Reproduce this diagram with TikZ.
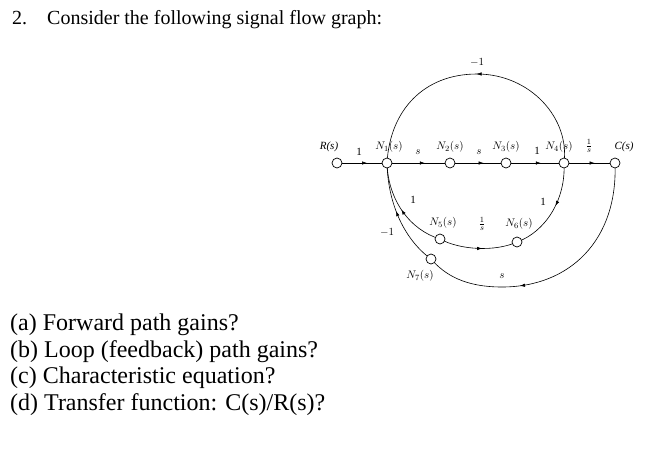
\documentclass[tikz,border=0pt]{standalone}
\usepackage{fontspec}
\setmainfont{Liberation Serif}
\usetikzlibrary{decorations.markings,arrows.meta}
\begin{document}
\begin{tikzpicture}[x=1pt,y=-1pt,
  sn/.style={circle,draw,fill=white,inner sep=0pt,minimum size=10pt,line width=0.7pt},
  lab/.style={font=\fontsize{11}{12}\selectfont\itshape,inner sep=1pt},
  gl/.style={font=\fontsize{11}{12}\selectfont,inner sep=1pt},
  br/.style={line width=0.6pt},
  fa/.style={postaction={decorate},decoration={markings,mark=at position #1 with {\arrow{Latex[length=5pt,width=3.5pt]}}}},
  ra/.style={postaction={decorate},decoration={markings,mark=at position #1 with {\arrowreversed{Latex[length=5pt,width=3.5pt]}}}},
  q/.style={anchor=west,font=\fontsize{24}{26}\selectfont,inner sep=0pt}]
\useasboundingbox (0,0) rectangle (656,456);
\node[anchor=west,font=\fontsize{20}{22}\selectfont,inner sep=0pt] (t) at (12,20) {2.\quad Consider the following signal flow graph:};
\coordinate (R) at (337,163);
\coordinate (N1) at (387,163);
\coordinate (N2) at (450,163);
\coordinate (N3) at (506,163);
\coordinate (N4) at (564,163);
\coordinate (C) at (615,163);
\coordinate (N5) at (440,239);
\coordinate (N6) at (517,242);
\coordinate (N7) at (431,259);
\draw[br,fa=0.6] (R) -- (N1);
\draw[br,fa=0.6] (N1) -- (N2);
\draw[br,fa=0.6] (N2) -- (N3);
\draw[br,fa=0.6] (N3) -- (N4);
\draw[br,fa=0.6] (N4) -- (C);
\draw[br,fa=0.5] (N4) .. controls (570,118) and (530,74) .. (477,74) .. controls (424,74) and (390,110) .. (N1);
\draw[br,fa=0.45] (N4) .. controls (566,200) and (545,232) .. (N6);
\draw[br,fa=0.55] (N5) .. controls (460,250) and (495,252) .. (N6);
\draw[br,ra=0.5] (N1) .. controls (388,200) and (410,230) .. (N5);
\draw[br,fa=0.64] (C) .. controls (618,240) and (570,287) .. (502,287) .. controls (465,287) and (445,275) .. (N7);
\draw[br,fa=0.55] (N7) .. controls (405,240) and (388,205) .. (N1);
\foreach \n in {R,N1,N2,N3,N4,C,N5,N6,N7} \node[sn] (n\n) at (\n) {};
\node[lab] (lR) at (329,147) {R(s)};
\node[lab] (lN1) at (389,147) {$N_1(s)$};
\node[lab] (lN2) at (450,147) {$N_2(s)$};
\node[lab] (lN3) at (506,147) {$N_3(s)$};
\node[lab] (lN4) at (559,147) {$N_4(s)$};
\node[lab] (lC) at (624,147) {C(s)};
\node[lab] (lN5) at (443,223) {$N_5(s)$};
\node[lab] (lN6) at (519,224) {$N_6(s)$};
\node[lab] (lN7) at (420,276) {$N_7(s)$};
\node[gl] (g1) at (359,152) {1};
\node[gl] (g2) at (418,152) {$s$};
\node[gl] (g3) at (479,152) {$s$};
\node[gl] (g4) at (537,151) {1};
\node[gl] (g5) at (589,146) {$\frac{1}{s}$};
\node[gl] (g6) at (477,62) {$-1$};
\node[gl] (g7) at (413,200) {1};
\node[gl] (g8) at (543,202) {1};
\node[gl] (g9) at (482,224) {$\frac{1}{s}$};
\node[gl] (g10) at (387,232) {$-1$};
\node[gl] (g11) at (502,276) {$s$};
\node[q] (qa) at (10,325) {(a) Forward path gains?};
\node[q] (qb) at (10,352) {(b) Loop (feedback) path gains?};
\node[q] (qc) at (10,378) {(c) Characteristic equation?};
\node[q] (qd) at (10,405) {(d) Transfer function: C(s)/R(s)?};
\end{tikzpicture}
\end{document}
